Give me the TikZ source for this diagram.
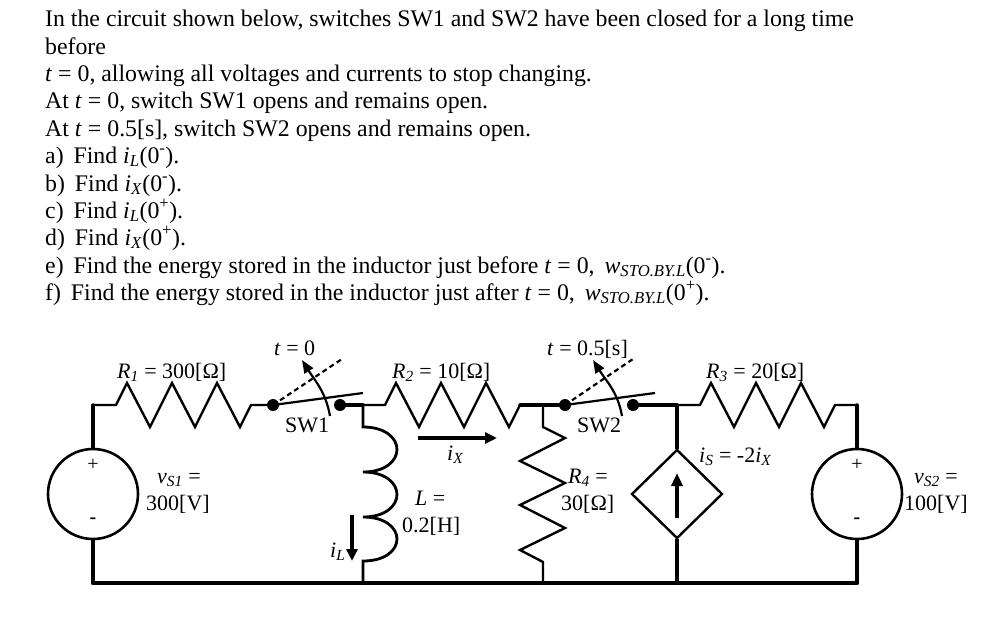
\documentclass[tikz,border=0pt]{standalone}
\usepackage{fontspec}
\setmainfont{Liberation Serif}
\usetikzlibrary{shapes.geometric,arrows.meta}
\newcommand{\vr}[2]{\textit{#1}\textsubscript{\textit{#2}}}
\newcommand{\supm}{\textsuperscript{-}}
\newcommand{\supp}{\textsuperscript{+}}
\tikzset{
  body/.style={anchor=base west,inner sep=0pt,font=\fontsize{23.8}{28}\selectfont,text=black},
  lab/.style={anchor=base west,inner sep=0pt,font=\fontsize{22}{26}\selectfont,text=black},
  wire/.style={line width=3.4pt,line cap=round,line join=round},
  thin wire/.style={line width=2.4pt,line join=miter},
  source/.style={circle,draw,line width=2.6pt,minimum size=90pt,inner sep=0pt},
  depsource/.style={diamond,draw,line width=2.4pt,minimum width=91pt,minimum height=89pt,inner sep=0pt},
  swdot/.style={circle,fill=black,minimum size=12pt,inner sep=0pt},
  blade/.style={line width=2.2pt},
  open/.style={line width=2.2pt,dash pattern=on 5pt off 3.5pt},
  swarrow/.style={line width=2.2pt,-{Triangle[length=13pt,width=10pt]}},
  curarrow/.style={line width=3.4pt,-{Triangle[length=12pt,width=11pt]}},
}
\begin{document}
\begin{tikzpicture}[x=1pt,y=-1pt]
\useasboundingbox[fill=white] (0,0) rectangle (1003,624);
% question text
\node[body] (q1) at (45,26) {In the circuit shown below, switches SW1 and SW2 have been closed for a long time};
\node[body] (q2) at (45,54) {before};
\node[body] (q3) at (45,81) {\textit{t} = 0, allowing all voltages and currents to stop changing.};
\node[body] (q4) at (45,108) {At \textit{t} = 0, switch SW1 opens and remains open.};
\node[body] (q5) at (45,136) {At \textit{t} = 0.5[s], switch SW2 opens and remains open.};
\node[body] (q6) at (45,163) {a)\, Find \vr{i}{L}(0\supm).};
\node[body] (q7) at (45,191) {b)\, Find \vr{i}{X}(0\supm).};
\node[body] (q8) at (45,218) {c)\, Find \vr{i}{L}(0\supp).};
\node[body] (q9) at (45,245) {d)\, Find \vr{i}{X}(0\supp).};
\node[body] (q10) at (45,273) {e)\, Find the energy stored in the inductor just before \textit{t} = 0,\, \vr{w}{STO.BY.L}(0\supm).};
\node[body] (q11) at (45,300) {f)\, Find the energy stored in the inductor just after \textit{t} = 0,\, \vr{w}{STO.BY.L}(0\supp).};
% junction points
\coordinate (tl) at (93,405);
\coordinate (bl) at (93,583);
\coordinate (jL) at (363,405);
\coordinate (bL) at (363,583);
\coordinate (jR4) at (543,405);
\coordinate (bR4) at (543,583);
\coordinate (jD) at (677,405);
\coordinate (bD) at (677,583);
\coordinate (tr) at (857,405);
\coordinate (br) at (857,583);
% sources
\node[source] (vs1) at (93,494) {};
\node[source] (vs2) at (857,494) {};
\node[depsource] (is) at (677,494) {};
\coordinate (isb) at (677,518);
\coordinate (ist) at (677,473);
\draw[line width=3.4pt,-{Triangle[length=13pt,width=11pt]}] (isb) -- (ist);
% switch terminals
\node[swdot] (s1a) at (273,405) {};
\node[swdot] (s1b) at (340,405) {};
\node[swdot] (s2a) at (565,405) {};
\node[swdot] (s2b) at (633,405) {};
\coordinate (b1) at (363,393);
\coordinate (d1) at (342,359);
\coordinate (a1s) at (330,416);
\coordinate (a1e) at (302,360);
\coordinate (b2) at (655,393);
\coordinate (d2) at (633,359);
\coordinate (a2s) at (622,416);
\coordinate (a2e) at (593,360);
% wires
\draw[wire] (vs1.north) -- (tl);
\draw[wire] (vs1.south) -- (bl);
\draw[wire,line width=4.2pt] (bl) -- (br);
\draw[wire] (vs2.north) -- (tr);
\draw[wire] (vs2.south) -- (br);
\draw[wire] (is.north) -- (jD);
\draw[wire] (is.south) -- (bD);
\draw[wire] (s1b) -- (jL);
\draw[wire] (s2b) -- (jD);
% R1
\draw[thin wire] (tl) -- ++(23,0) -- ++(11,-22) -- ++(23,44) -- ++(22,-44) -- ++(23,44) -- ++(22,-44) -- ++(23,44) -- ++(11,-22) -- (s1a);
% R2
\draw[thin wire] (jL) -- ++(22,0) -- ++(11,-22) -- ++(23,44) -- ++(22,-44) -- ++(23,44) -- ++(22,-44) -- ++(23,44) -- ++(11,-22) coordinate (r2e);
\draw[wire] (r2e) -- (s2a);
% R3
\draw[thin wire] (jD) -- ++(23,0) -- ++(11,-22) -- ++(23,44) -- ++(22,-44) -- ++(23,44) -- ++(22,-44) -- ++(23,44) -- ++(11,-22) -- (tr);
% R4
\draw[thin wire] (jR4) -- ++(0,22) -- ++(22,11) -- ++(-45,23) -- ++(45,22) -- ++(-45,22) -- ++(45,23) -- ++(-45,22) -- ++(23,12) -- (bR4);
% inductor
\coordinate (l1) at (363,427);
\coordinate (l2) at (363,472);
\coordinate (l3) at (363,517);
\coordinate (l4) at (363,561);
\draw[thin wire,line width=2.8pt] (jL) -- (l1)
  .. controls +(45.3,0) and +(45.3,0) .. (l2)
  .. controls +(45.3,0) and +(45.3,0) .. (l3)
  .. controls +(45.3,0) and +(45.3,0) .. (l4) -- (bL);
% switches
\draw[blade] (s1a.center) -- (b1);
\draw[open] (s1a.center) -- (d1);
\draw[swarrow] (a1s) to[out=100,in=-58] (a1e);
\draw[blade] (s2a.center) -- (b2);
\draw[open] (s2a.center) -- (d2);
\draw[swarrow] (a2s) to[out=100,in=-58] (a2e);
% current arrows
\coordinate (ixs) at (418,438);
\coordinate (ixe) at (497,438);
\draw[curarrow] (ixs) -- (ixe);
\coordinate (ils) at (352,515);
\coordinate (ile) at (352,561);
\draw[curarrow] (ils) -- (ile);
% labels
\node[lab] (lt1) at (274,355) {\textit{t} = 0};
\node[lab] (lr1) at (117,378) {\vr{R}{1} = 300[Ω]};
\node[lab] (lsw1) at (285,432) {SW1};
\node[lab] (lr2) at (392,378) {\vr{R}{2} = 10[Ω]};
\node[lab] (lix) at (447,460) {\vr{i}{X}};
\node[lab] (lv1) at (157,483) {\vr{v}{S1} =};
\node[lab] (lv1b) at (146,510) {300[V]};
\node[lab] (ll) at (415,505) {\textit{L} =};
\node[lab] (llb) at (402,532) {0.2[H]};
\node[lab] (lil) at (330,557) {\vr{i}{L}};
\node[lab] (lt2) at (547,355) {\textit{t} = 0.5[s]};
\node[lab] (lr3) at (706,378) {\vr{R}{3} = 20[Ω]};
\node[lab] (lsw2) at (577,432) {SW2};
\node[lab] (lis) at (699,462) {\vr{i}{S} = -2\vr{i}{X}};
\node[lab] (lr4) at (568,483) {\vr{R}{4} =};
\node[lab] (lr4b) at (561,510) {30[Ω]};
\node[lab] (lv2) at (914,483) {\vr{v}{S2} =};
\node[lab] (lv2b) at (904,510) {100[V]};
\node[inner sep=0pt,font=\fontsize{20}{24}\selectfont] (p1) at (93,465) {+};
\node[inner sep=0pt,font=\fontsize{20}{24}\bfseries\selectfont] (m1) at (93,521) {-};
\node[inner sep=0pt,font=\fontsize{20}{24}\selectfont] (p2) at (857,465) {+};
\node[inner sep=0pt,font=\fontsize{20}{24}\bfseries\selectfont] (m2) at (857,521) {-};
\end{tikzpicture}
\end{document}
